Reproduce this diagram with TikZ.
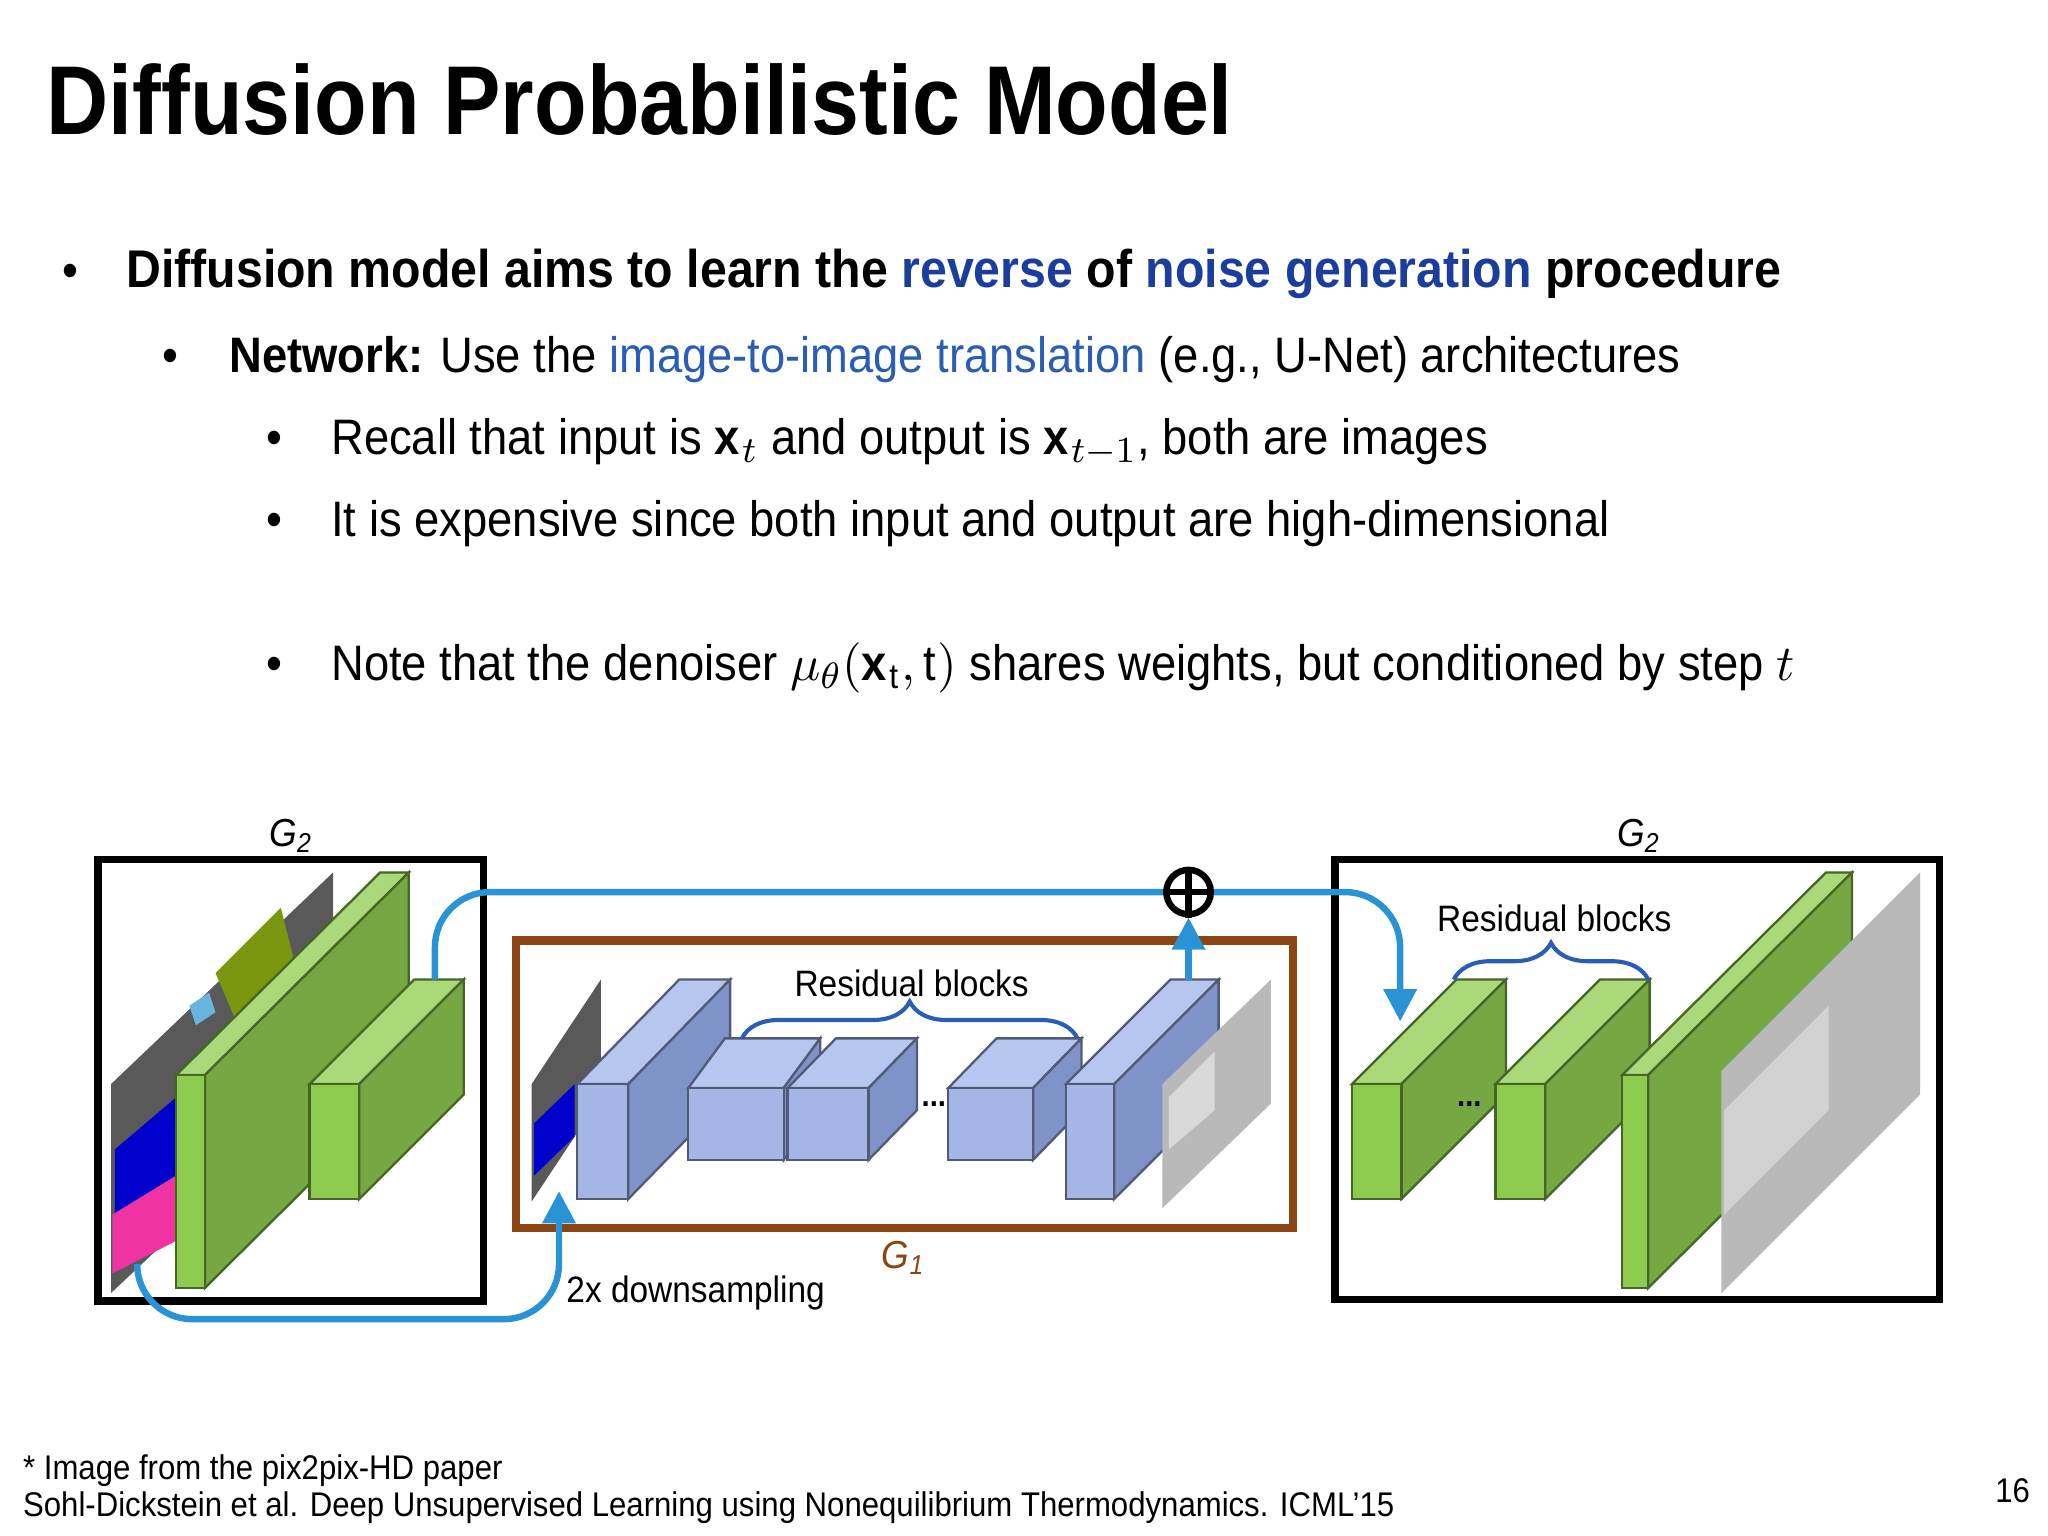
\documentclass[tikz,border=0pt]{standalone}
\usepackage{fontspec}
\setmainfont[FakeStretch=0.91]{Liberation Sans}
\newfontfamily\titlefont[FakeStretch=0.88]{Liberation Sans}
\usetikzlibrary{arrows.meta,decorations.pathreplacing}
\definecolor{dblue}{HTML}{1A3D9E}
\definecolor{lblue}{HTML}{2A5DB5}
\definecolor{gfront}{HTML}{8CCB4E}
\definecolor{gtop}{HTML}{A9D978}
\definecolor{gside}{HTML}{75A743}
\definecolor{bfront}{HTML}{A3B6E6}
\definecolor{btop}{HTML}{B7C6EE}
\definecolor{bside}{HTML}{7F93C8}
\definecolor{arr}{HTML}{2A93D5}
\definecolor{brown}{HTML}{8B4513}
\newcommand\mycube[7]{%
 \filldraw[draw=#7!50!black,fill=#7top,line width=0.5pt] (#1,#2) -- ++(#5,#6) -- ++(#3,0) -- ++({-(#5)},{-(#6)}) -- cycle;
 \filldraw[draw=#7!50!black,fill=#7side,line width=0.5pt] (#1+#3,#2) -- ++(#5,#6) -- ++(0,#4) -- ++({-(#5)},{-(#6)}) -- cycle;
 \filldraw[draw=#7!50!black,fill=#7front,line width=0.5pt] (#1,#2) rectangle ++(#3,#4);}
\colorlet{g}{gfront}\colorlet{b}{bfront}
\begin{document}
\begin{tikzpicture}[x=0.01cm,y=-0.01cm,
 bul/.style={anchor=base west,inner sep=0pt,font=\fontsize{10.85}{13}\selectfont},
 lab/.style={font=\fontsize{8}{9}\selectfont},
 frame/.style={line width=1.6pt},
 flow/.style={arr,line width=1.4pt,rounded corners=12},
 foot/.style={anchor=base west,inner sep=0pt,font=\fontsize{7.45}{8}\selectfont}]
\useasboundingbox (0,0) rectangle (1568,1176);
\node[anchor=base west,inner sep=0pt,font=\fontsize{21.3}{24}\selectfont\titlefont\bfseries] (title) at (35,103) {Diffusion Probabilistic Model};
\node[bul] (b1) at (47,220) {•};
\node[bul,font=\fontsize{11.55}{13}\selectfont\bfseries] (t1) at (96,220) {Diffusion model aims to learn the \textcolor{dblue}{reverse} of \textcolor{dblue}{noise generation} procedure};
\node[bul] (b2) at (124,285) {•};
\node[bul] (t2) at (175,285) {\textbf{Network:} Use the \textcolor{lblue}{image-to-image translation} (e.g., U-Net) architectures};
\node[bul] (b3) at (203,348) {•};
\node[bul] (t3) at (253,348) {Recall that input is $\mathbf{x}_t$ and output is $\mathbf{x}_{t-1}$, both are images};
\node[bul] (b4) at (203,411) {•};
\node[bul] (t4) at (253,411) {It is expensive since both input and output are high-dimensional};
\node[bul] (b5) at (203,521) {•};
\node[bul] (t5) at (253,521) {Note that the denoiser $\mu_\theta(\mathbf{x}_\mathrm{t},\mathrm{t})$ shares weights, but conditioned by step $t$};
% frames
\draw[frame] (75,658) rectangle (370,996);
\draw[brown,line width=1.8pt] (395,720) rectangle (990,940);
\draw[frame] (1022,658) rectangle (1485,995);
\node[lab,font=\fontsize{8.5}{9}\selectfont\itshape] (g2a) at (223,640) {G\textsubscript{2}};
\node[lab,font=\fontsize{8.5}{9}\selectfont\itshape] (g2b) at (1255,640) {G\textsubscript{2}};
\node[lab,font=\fontsize{8.5}{9}\selectfont\itshape,text=brown] (g1) at (692,963) {G\textsubscript{1}};
% left segmentation map
\fill[gray!70!black] (85,990) -- (85,830) -- (255,668) -- (255,830) -- cycle;
\fill[blue!80!black] (88,930) -- (88,880) -- (135,840) -- (140,900) -- cycle;
\fill[magenta!80] (86,975) -- (86,930) -- (135,900) -- (135,950) -- cycle;
\fill[olive!70!green] (165,745) -- (215,695) -- (225,735) -- (180,780) -- cycle;
\fill[arr!70] (145,770) -- (160,760) -- (165,775) -- (150,785) -- cycle;
\mycube{135}{823}{22}{163}{156}{-155}{g}
\mycube{237}{830}{38}{88}{80}{-80}{g}
% blue encoder
\fill[gray!70!black] (407,920) -- (407,830) -- (460,750) -- (460,840) -- cycle;
\fill[blue!80!black] (409,900) -- (409,860) -- (440,830) -- (440,870) -- cycle;
\mycube{442}{830}{39}{88}{78}{-80}{b}
\mycube{527}{833}{73}{55}{28}{-38}{b}
\mycube{603}{833}{62}{55}{37}{-38}{b}
\mycube{726}{833}{65}{55}{37}{-38}{b}
\mycube{816}{830}{37}{88}{80}{-80}{b}
\node[lab,font=\bfseries\fontsize{7}{8}\selectfont] (d1) at (715,845) {...};
\fill[gray!55] (890,925) -- (890,830) -- (973,750) -- (973,845) -- cycle;
\fill[gray!30] (895,840) -- (930,805) -- (930,850) -- (895,880) -- cycle;
\draw[decorate,decoration={brace,amplitude=8},lblue,line width=0.9pt] (568,795) -- (825,795);
\node[lab] (rb1) at (698,753) {Residual blocks};
% right decoder
\mycube{1035}{830}{38}{88}{80}{-80}{g}
\mycube{1145}{830}{38}{88}{80}{-80}{g}
\node[lab,font=\bfseries\fontsize{7}{8}\selectfont] (d2) at (1125,845) {...};
\mycube{1242}{823}{20}{163}{156}{-155}{g}
\fill[gray!55] (1318,990) -- (1318,820) -- (1470,668) -- (1470,838) -- cycle;
\fill[gray!35] (1320,850) -- (1400,770) -- (1400,850) -- (1320,930) -- cycle;
\draw[decorate,decoration={brace,amplitude=8},lblue,line width=0.9pt] (1113,750) -- (1262,750);
\node[lab] (rb2) at (1190,703) {Residual blocks};
% arrows
\coordinate (s1) at (333,750);
\node[circle,draw,line width=1.4pt,inner sep=0pt,minimum size=0.34cm] (plus) at (910,683) {};
\draw[line width=1.4pt] (plus.north) -- (plus.south) (plus.west) -- (plus.east);
\coordinate (e1) at (1072,782);
\draw[flow] (s1) |- (plus.west);
\draw[flow,-{Triangle[width=7pt,length=7pt]}] (plus.east) -| (e1);
\coordinate (u0) at (910,750);
\draw[arr,line width=1.4pt,-{Triangle[width=7pt,length=7pt]}] (u0) -- (plus.south);
\coordinate (s2) at (105,968);
\coordinate (e2) at (428,912);
\draw[flow,-{Triangle[width=7pt,length=7pt]}] (s2) |- (300,1010) -| (e2);
\node[lab,anchor=west,inner sep=0pt] (ds) at (433,990) {2x downsampling};
% footer
\node[foot] (f1) at (17,1133) {* Image from the pix2pix-HD paper};
\node[foot] (f2) at (17,1161) {Sohl-Dickstein et al. Deep Unsupervised Learning using Nonequilibrium Thermodynamics. ICML'15};
\node[foot] (pg) at (1527,1150) {16};
\end{tikzpicture}
\end{document}
